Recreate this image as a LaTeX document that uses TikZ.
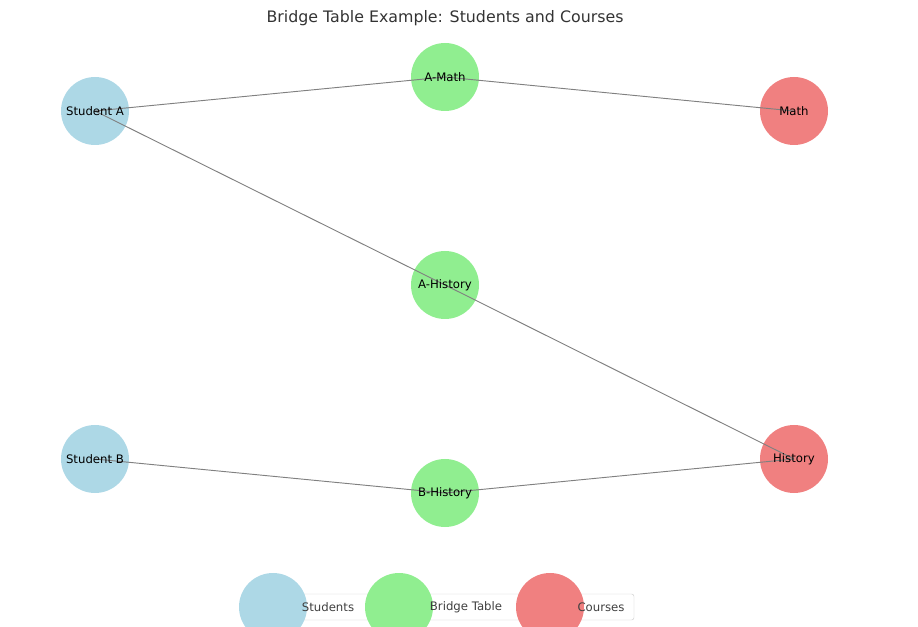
\documentclass[tikz,border=0pt]{standalone}
\usepackage{fontspec}
\setmainfont{DejaVu Sans}
\usepackage{tikz}
\definecolor{lblue}{HTML}{ADD8E6}
\definecolor{lgreen}{HTML}{90EE90}
\definecolor{lcoral}{HTML}{F08080}
\definecolor{edgegray}{HTML}{808080}
\tikzset{
  ent/.style={circle, minimum size=2.04cm, inner sep=0pt, font=\fontsize{10}{12}\selectfont},
  student/.style={ent, fill=lblue},
  bridge/.style={ent, fill=lgreen},
  course/.style={ent, fill=lcoral},
  link/.style={draw=edgegray, line width=0.8pt},
  legtxt/.style={font=\fontsize{10}{12}\selectfont, text=black!75}
}
\begin{document}
\begin{tikzpicture}[x=0.03cm, y=-0.03cm]
  \useasboundingbox (0,0) rectangle (918,627);
  \clip (0,0) rectangle (918,627);
  \node[font=\fontsize{13.5}{16}\selectfont, text=black!80] (title) at (445,18) {Bridge Table Example: Students and Courses};
  % entities
  \node[student] (sa) at (95,111) {};
  \node[student] (sb) at (95,459) {};
  \node[bridge] (am) at (445,77) {};
  \node[bridge] (ah) at (445,285) {};
  \node[bridge] (bh) at (445,493) {};
  \node[course] (math) at (794,111) {};
  \node[course] (hist) at (794,459) {};
  % bridge links
  \draw[link] (sa.center) -- (am.center);
  \draw[link] (am.center) -- (math.center);
  \draw[link] (sa.center) -- (ah.center);
  \draw[link] (ah.center) -- (hist.center);
  \draw[link] (sb.center) -- (bh.center);
  \draw[link] (bh.center) -- (hist.center);
  \foreach \n/\t in {sa/Student A, sb/Student B, am/A-Math, ah/A-History, bh/B-History, math/Math, hist/History}
    \node[font=\fontsize{10}{12}\selectfont] at (\n) {\t};
  % legend
  \draw[black!20, fill=white, rounded corners=2pt] (248,594) rectangle (634,620);
  \node[student] (ls) at (273,607) {};
  \node[bridge] (lb) at (399,607) {};
  \node[course] (lc) at (550,607) {};
  \node[legtxt] at (328,607) {Students};
  \node[legtxt] at (466,607) {Bridge Table};
  \node[legtxt] at (601,607) {Courses};
\end{tikzpicture}
\end{document}
